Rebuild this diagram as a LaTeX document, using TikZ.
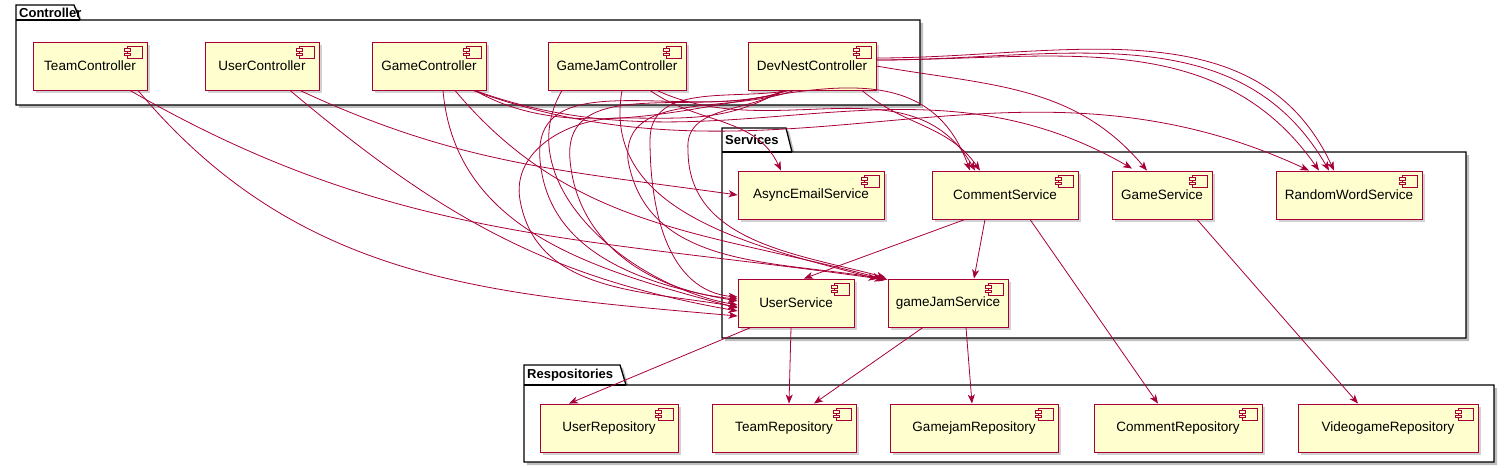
\documentclass[tikz,border=0pt]{standalone}
\usepackage{fontspec}
\setmainfont{Liberation Sans}
\usetikzlibrary{arrows.meta,shadows,calc}
\definecolor{bd}{HTML}{A80036}
\definecolor{fl}{HTML}{FEFECE}
\tikzset{
 comp/.style={draw=bd,fill=fl,line width=0.9pt,minimum height=48,inner sep=0,
   font=\fontsize{13.5}{15}\selectfont,drop shadow={shadow xshift=3pt,shadow yshift=-3pt,opacity=0.35,fill=gray},
   path picture={\draw[bd,fill=fl,line width=0.7pt] ([xshift=-20,yshift=-4]path picture bounding box.north east) rectangle ([xshift=-5,yshift=-16]path picture bounding box.north east);
     \draw[bd,fill=fl,line width=0.7pt] ([xshift=-23,yshift=-6.5]path picture bounding box.north east) rectangle ([xshift=-17,yshift=-9]path picture bounding box.north east);
     \draw[bd,fill=fl,line width=0.7pt] ([xshift=-23,yshift=-11]path picture bounding box.north east) rectangle ([xshift=-17,yshift=-13.5]path picture bounding box.north east);}},
 pkg/.style={draw=black,line width=1.3pt,fill=white,drop shadow={shadow xshift=3pt,shadow yshift=-3pt,opacity=0.5,fill=gray}},
 ar/.style={draw=bd,line width=0.8pt,-{Stealth[length=9pt,width=7pt,inset=2.5pt]}},
 lbl/.style={font=\bfseries\fontsize{13}{15}\selectfont,anchor=west,inner sep=2pt}
}
\begin{document}
\begin{tikzpicture}[x=1pt,y=-1pt]
\useasboundingbox (0,0) rectangle (1509,468);
% packages
\path[pkg] (16,5) -- (74,5) -- (80,20) -- (920,20) -- (920,105) -- (16,105) -- cycle;
\draw[line width=1.3pt] (16,20) -- (80,20);
\node[lbl] (pc) at (17,12.5) {Controller};
\path[pkg] (722,128) -- (786,128) -- (792,152) -- (1466,152) -- (1466,338) -- (722,338) -- cycle;
\draw[line width=1.3pt] (722,152) -- (792,152);
\node[lbl] (ps) at (723,140) {Services};
\path[pkg] (524,365) -- (620,365) -- (626,385) -- (1494,385) -- (1494,462) -- (524,462) -- cycle;
\draw[line width=1.3pt] (524,385) -- (626,385);
\node[lbl] (pr) at (525,375) {Respositories};
% components
\node[comp,minimum width=114] (tc) at (90,66) {TeamController};
\node[comp,minimum width=114] (uc) at (262,66) {UserController};
\node[comp,minimum width=114] (gc) at (429,66) {GameController};
\node[comp,minimum width=138] (jc) at (617,66) {GameJamController};
\node[comp,minimum width=128] (dc) at (812,66) {DevNestController};
\node[comp,minimum width=146] (as) at (811,195) {AsyncEmailService};
\node[comp,minimum width=146] (cs) at (1005,195) {CommentService};
\node[comp,minimum width=100] (gs) at (1162,195) {GameService};
\node[comp,minimum width=146] (rs) at (1349,195) {RandomWordService};
\node[comp,minimum width=116] (us) at (796,303) {UserService};
\node[comp,minimum width=120] (js) at (948,303) {gameJamService};
\node[comp,minimum width=138] (ur) at (609,428) {UserRepository};
\node[comp,minimum width=144] (tr) at (784,428) {TeamRepository};
\node[comp,minimum width=168] (jr) at (974,428) {GamejamRepository};
\node[comp,minimum width=168] (cr) at (1178,428) {CommentRepository};
\node[comp,minimum width=180] (vr) at (1388,428) {VideogameRepository};
% controller edges
\draw[ar] ([xshift=48]tc.south) to[out=-50,in=175] ([yshift=-13]us.west);
\draw[ar] ([xshift=40]tc.south) to[out=-30,in=172] ([xshift=-10]js.north west);
\draw[ar] ([xshift=28]uc.south) to[out=-40,in=170] ([yshift=-8]us.west);
\draw[ar] ([xshift=38]uc.south) to[out=-25,in=172] (as.west);
\draw[ar] ([xshift=14]gc.south) to[out=-85,in=165] ([yshift=-5]us.west);
\draw[ar] ([xshift=26]gc.south) to[out=-50,in=165] ([xshift=-6]js.north west);
\draw[ar] ([xshift=46]gc.south) to[out=-30,in=110] ([xshift=-35]cs.north);
\draw[ar] ([xshift=46]gc.south) to[out=-20,in=150] ([xshift=-30,yshift=2]gs.north);
\draw[ar] ([xshift=44]gc.south) to[out=-20,in=155] ([xshift=-40]rs.north);
\draw[ar] ([xshift=-55]jc.south) to[out=-120,in=170] ([yshift=-2]us.west);
\draw[ar] ([xshift=5]jc.south) to[out=-100,in=165] ([xshift=-4,yshift=-2]js.north west);
\draw[ar] ([xshift=33]jc.south) to[out=-35,in=115] ([xshift=-30]as.north);
\draw[ar] ([xshift=40]jc.south) to[out=-25,in=120] ([xshift=-30]cs.north);
\draw[ar] ([xshift=-25]dc.south) to[out=-160,in=95] (540,160) to[out=-85,in=170] ([yshift=2]us.west);
\draw[ar] ([xshift=-25]dc.south) to[out=-160,in=95] (570,160) to[out=-85,in=175] ([yshift=4]us.west);
\draw[ar] ([xshift=-18]dc.south) to[out=-160,in=95] (628,160) to[out=-80,in=170] ([yshift=-1]js.north west);
\draw[ar] ([xshift=-28]dc.south) to[out=-150,in=95] (688,150) to[out=-90,in=165] ([xshift=-2,yshift=1]js.north west);
\draw[ar] ([xshift=-22]dc.south) to[out=-170,in=90] (650,140) to[out=-90,in=175] ([yshift=6]us.west);
\draw[ar] ([xshift=50]dc.south) to[out=-40,in=125] ([xshift=-25]cs.north);
\draw[ar] (dc.east) to[out=-10,in=130] ([xshift=-15]gs.north);
\draw[ar] ([yshift=6]dc.east) to[out=0,in=125] ([xshift=-30]rs.north);
\draw[ar] ([yshift=6]dc.east) to[out=0,in=120] ([xshift=-20]rs.north);
\draw[ar] ([yshift=8]dc.east) to[out=0,in=115] ([xshift=-15]rs.north);
\draw[ar] ([xshift=-30]dc.south) to[out=-150,in=0] (620,118) to[out=180,in=100] (520,200) to[out=-80,in=170] ([yshift=-4]us.west);
% service edges
\draw[ar] ([xshift=-40]cs.south) -- ([xshift=8]us.north);
\draw[ar] ([xshift=-20]cs.south) -- ([xshift=26]js.north);
\draw[ar] ([xshift=25]cs.south) -- ([xshift=-20]cr.north);
\draw[ar] ([xshift=35]gs.south) -- ([xshift=-30]vr.north);
\draw[ar] ([xshift=-45]us.south) -- ([xshift=-40]ur.north);
\draw[ar] ([xshift=-5]us.south) -- ([xshift=5]tr.north);
\draw[ar] ([xshift=-25]js.south) -- ([xshift=30]tr.north);
\draw[ar] ([xshift=18]js.south) -- ([xshift=-2]jr.north);
\end{tikzpicture}
\end{document}
